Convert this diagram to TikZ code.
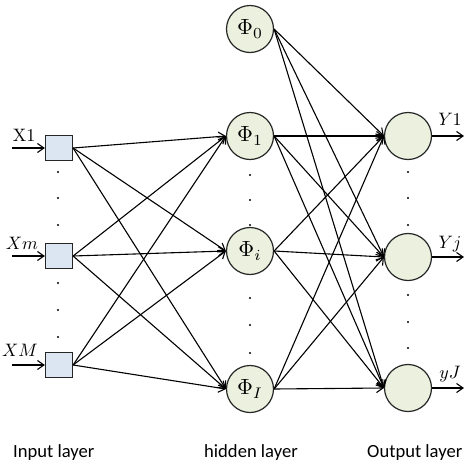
\documentclass[tikz,border=0pt]{standalone}
\usepackage{fontspec}
\setsansfont{Carlito}
\usetikzlibrary{arrows.meta}
\definecolor{inblue}{RGB}{220,230,242}
\definecolor{hgreen}{RGB}{235,241,222}
\newcommand{\bigphi}[1]{\scalebox{2.2}{$\Phi_{#1}$}}
\newcommand{\biglab}[1]{\scalebox{1.8}{#1}}
\begin{document}
\begin{tikzpicture}[x=1pt,y=-1pt,
 inbox/.style={draw=black!85, fill=inblue, line width=1.2pt, minimum width=27pt, minimum height=25pt, inner sep=0},
 neuron/.style={circle, draw=black!85, fill=hgreen, line width=1.2pt, minimum size=47pt, inner sep=0},
 link/.style={line width=1.1pt, -{Straight Barb[length=6.5pt,width=9pt]}},
 dotn/.style={circle, fill=black, inner sep=0, minimum size=2.2pt},
 lab/.style={inner sep=0},
 layer/.style={font=\sffamily\fontsize{18.6}{22}\selectfont, anchor=base west, inner sep=0}]
\useasboundingbox (0,0) rectangle (474,466);
% input layer
\node[inbox] (i1) at (59,148) {};
\node[inbox] (i2) at (59,256) {};
\node[inbox] (i3) at (59,365) {};
% hidden layer
\node[neuron] (h0) at (250,29) {\bigphi{0}};
\node[neuron] (h1) at (250,136) {\bigphi{1}};
\node[neuron] (h2) at (250,251) {\bigphi{i}};
\node[neuron] (h3) at (250,389) {\bigphi{I}};
% output layer
\node[neuron] (o1) at (408,136) {};
\node[neuron] (o2) at (408,257) {};
\node[neuron] (o3) at (408,388) {};
% dots
\foreach \y [count=\k] in {172,198,225,283,310,337} \node[dotn] (di\k) at (58,\y) {};
\foreach \y [count=\k] in {175,200,225,298,325,353} \node[dotn] (dh\k) at (250,\y) {};
\foreach \y [count=\k] in {172,198,225,295,322,348} \node[dotn] (do\k) at (408,\y) {};
% connections input -> hidden
\foreach \s in {i1,i2,i3}
  \foreach \h in {h1,h2,h3}
    \draw[link] (\s.east) -- (\h.west);
% connections hidden -> output
\foreach \h in {h0,h1,h2,h3}
  \foreach \o in {o1,o2,o3}
    \draw[link] (\h.east) -- (\o.west);
% input arrows
\coordinate (xa1) at (12,148);
\coordinate (xa2) at (12,256);
\coordinate (xa3) at (12,365);
\draw[link] (xa1) -- (i1.west);
\draw[link] (xa2) -- (i2.west);
\draw[link] (xa3) -- (i3.west);
% output arrows
\coordinate (ya1) at (464,136);
\coordinate (ya2) at (464,257);
\coordinate (ya3) at (464,388);
\draw[link] (o1.east) -- (ya1);
\draw[link] (o2.east) -- (ya2);
\draw[link] (o3.east) -- (ya3);
% labels
\node[lab] (lx1) at (24,135) {\biglab{X1}};
\node[lab] (lx2) at (22,243) {\biglab{$Xm$}};
\node[lab] (lx3) at (20,350) {\biglab{$XM$}};
\node[lab] (ly1) at (450,119) {\biglab{$Y1$}};
\node[lab] (ly2) at (450,244) {\biglab{$Yj$}};
\node[lab] (ly3) at (450,374) {\biglab{$yJ$}};
\node[layer] (t1) at (13,457) {Input layer};
\node[layer] (t2) at (204,457) {hidden layer};
\node[layer] (t3) at (367,457) {Output layer};
\end{tikzpicture}
\end{document}
